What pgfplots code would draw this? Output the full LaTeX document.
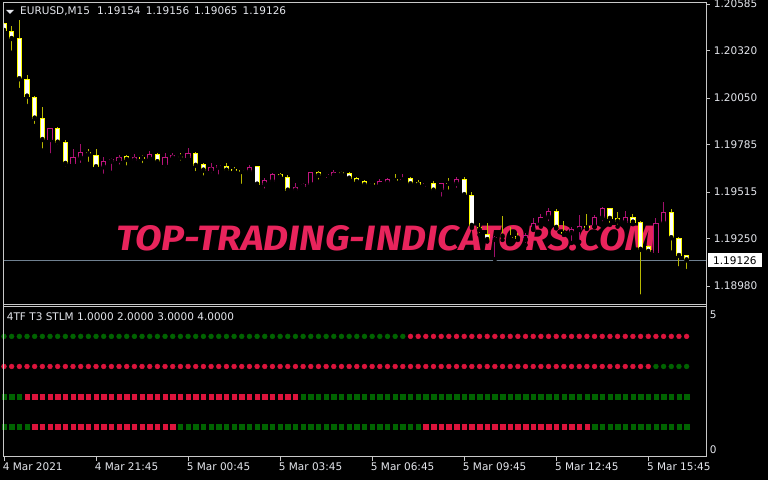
\documentclass[border=0pt]{standalone}
\usepackage{pgfplots}
\pgfplotsset{compat=1.18}
\usepackage{pgfplotstable}
\usepackage{fontspec}
\setmainfont{DejaVu Sans}
\newfontfamily\wmfont{Fira Sans}
\definecolor{bodyY}{HTML}{FFFF00}
\definecolor{wickY}{HTML}{B8B800}
\definecolor{magB}{HTML}{C0157F}
\definecolor{magW}{HTML}{A0106C}
\definecolor{dgreen}{HTML}{006400}
\definecolor{crim}{HTML}{DC143C}
\definecolor{wmc}{HTML}{E8245C}
\definecolor{framec}{HTML}{C8C8C8}
\definecolor{txtc}{HTML}{E4E6EC}
\definecolor{plc}{HTML}{6F8090}
\newcommand\lbl{\fontsize{10.5bp}{12bp}\selectfont}

\pgfplotstableread{
i o h l c
0 1.20477 1.20500 1.20426 1.20432
1 1.20432 1.20460 1.20308 1.20386
2 1.20392 1.20494 1.20096 1.20157
3 1.20157 1.20181 1.20005 1.20058
4 1.20058 1.20062 1.19891 1.19933
5 1.19934 1.19998 1.19751 1.19811
7 1.19880 1.19883 1.19773 1.19796
8 1.19800 1.19811 1.19650 1.19675
11 1.19741 1.19760 1.19675 1.19729
12 1.19726 1.19760 1.19637 1.19656
16 1.19720 1.19726 1.19654 1.19698
18 1.19713 1.19726 1.19669 1.19705
20 1.19730 1.19736 1.19679 1.19685
23 1.19722 1.19736 1.19682 1.19711
25 1.19736 1.19743 1.19622 1.19664
26 1.19673 1.19679 1.19597 1.19637
29 1.19664 1.19682 1.19622 1.19637
30 1.19645 1.19658 1.19625 1.19632
31 1.19641 1.19644 1.19550 1.19629
33 1.19664 1.19666 1.19540 1.19557
36 1.19616 1.19625 1.19595 1.19599
37 1.19603 1.19612 1.19504 1.19523
41 1.19629 1.19632 1.19574 1.19608
44 1.19629 1.19637 1.19611 1.19616
45 1.19622 1.19629 1.19588 1.19591
46 1.19597 1.19603 1.19565 1.19572
47 1.19578 1.19584 1.19550 1.19554
48 1.19565 1.19567 1.19546 1.19555
51 1.19588 1.19616 1.19575 1.19578
53 1.19594 1.19599 1.19551 1.19559
54 1.19572 1.19584 1.19550 1.19554
56 1.19565 1.19576 1.19521 1.19523
58 1.19568 1.19594 1.19517 1.19561
60 1.19588 1.19603 1.19480 1.19497
61 1.19498 1.19518 1.19311 1.19322
62 1.19318 1.19341 1.19271 1.19299
63 1.19277 1.19341 1.19233 1.19242
65 1.19271 1.19379 1.19242 1.19261
66 1.19261 1.19318 1.19237 1.19252
67 1.19265 1.19281 1.19242 1.19250
72 1.19407 1.19416 1.19308 1.19311
73 1.19290 1.19351 1.19271 1.19274
76 1.19324 1.19390 1.19305 1.19309
79 1.19423 1.19425 1.19328 1.19362
80 1.19366 1.19402 1.19318 1.19347
82 1.19372 1.19389 1.19332 1.19341
83 1.19347 1.19351 1.18920 1.19186
84 1.19208 1.19214 1.19157 1.19174
87 1.19403 1.19416 1.19170 1.19252
88 1.19252 1.19257 1.19081 1.19151
89 1.19154 1.19156 1.19065 1.19126
}\bear

\pgfplotstableread{
i o h l c
6 1.19811 1.19881 1.19724 1.19881
9 1.19675 1.19760 1.19672 1.19713
10 1.19707 1.19789 1.19669 1.19741
13 1.19656 1.19713 1.19607 1.19692
14 1.19688 1.19709 1.19624 1.19703
15 1.19694 1.19726 1.19660 1.19713
17 1.19694 1.19732 1.19679 1.19716
19 1.19702 1.19749 1.19694 1.19732
21 1.19669 1.19736 1.19645 1.19713
22 1.19707 1.19736 1.19702 1.19726
24 1.19711 1.19764 1.19707 1.19739
27 1.19637 1.19679 1.19612 1.19660
28 1.19654 1.19669 1.19603 1.19669
32 1.19629 1.19669 1.19612 1.19656
34 1.19557 1.19597 1.19523 1.19584
35 1.19574 1.19622 1.19554 1.19616
38 1.19523 1.19568 1.19517 1.19546
39 1.19546 1.19568 1.19527 1.19559
40 1.19557 1.19629 1.19557 1.19629
42 1.19612 1.19629 1.19584 1.19618
43 1.19608 1.19641 1.19603 1.19629
49 1.19554 1.19588 1.19553 1.19578
50 1.19565 1.19597 1.19554 1.19588
52 1.19582 1.19616 1.19568 1.19591
55 1.19561 1.19572 1.19534 1.19568
57 1.19527 1.19567 1.19477 1.19565
59 1.19561 1.19599 1.19527 1.19588
64 1.19242 1.19265 1.19133 1.19261
68 1.19242 1.19281 1.19214 1.19271
69 1.19303 1.19366 1.19299 1.19341
70 1.19337 1.19390 1.19318 1.19375
71 1.19372 1.19426 1.19337 1.19407
74 1.19281 1.19318 1.19225 1.19303
75 1.19299 1.19385 1.19231 1.19322
77 1.19316 1.19385 1.19316 1.19372
78 1.19366 1.19432 1.19337 1.19423
81 1.19341 1.19407 1.19332 1.19372
85 1.19170 1.19366 1.19147 1.19337
86 1.19337 1.19460 1.19315 1.19403
}\bull

\pgfplotstableread{
i s4 s3 s2 s1
0 g r g g
1 g r g g
2 g r g g
3 g r r g
4 g r r r
5 g r r r
6 g r r r
7 g r r r
8 g r r r
9 g r r r
10 g r r r
11 g r r r
12 g r r r
13 g r r r
14 g r r r
15 g r r r
16 g r r r
17 g r r r
18 g r r r
19 g r r r
20 g r r r
21 g r r r
22 g r r r
23 g r r g
24 g r r g
25 g r r g
26 g r r g
27 g r r g
28 g r r g
29 g r r g
30 g r r g
31 g r r g
32 g r r g
33 g r r g
34 g r r g
35 g r r g
36 g r r g
37 g r r g
38 g r r g
39 g r g g
40 g r g g
41 g r g g
42 g r g g
43 g r g g
44 g r g g
45 g r g g
46 g r g g
47 g r g g
48 g r g g
49 g r g g
50 g r g g
51 g r g g
52 g r g g
53 r r g g
54 r r g g
55 r r g r
56 r r g r
57 r r g r
58 r r g r
59 r r g r
60 r r g r
61 r r g r
62 r r g r
63 r r g r
64 r r g r
65 r r g r
66 r r g r
67 r r g r
68 r r g r
69 r r g r
70 r r g r
71 r r g r
72 r r g r
73 r r g r
74 r r g r
75 r r g r
76 r r g r
77 r r g g
78 r r g g
79 r r g g
80 r r g g
81 r r g g
82 r r g g
83 r r g g
84 r r g g
85 r g g g
86 r g g g
87 r g g g
88 r g g g
89 r g g g
}\dots

\pgfplotsset{
  candle/.style 2 args={only marks, mark=none, error bars/.cd, y dir=plus, y explicit, error mark=none,
    error bar style={draw=#1, line width=#2, solid}},
  dotcls/.style={only marks, scatter, scatter src=explicit symbolic,
    scatter/classes={g={mark=#1, dgreen}, r={mark=#1, crim}}}
}

\begin{document}
\begin{tikzpicture}
\path[use as bounding box] (0,0) rectangle (768bp,480bp);
\fill[black] (0,0) rectangle (768bp,480bp);
\node[anchor=south west, inner sep=0pt, text=wmc] at (116bp,228.3bp) {\resizebox{539bp}{25bp}{\wmfont\bfseries\itshape TOP-TRADING-INDICATORS.COM}};

\begin{axis}[at={(3bp,175.7bp)}, anchor=south west, scale only axis,
  width=703.7bp, height=301.3bp,
  xmin=-0.13, xmax=91.62, ymin=1.18876, ymax=1.20591,
  axis line style={draw=none}, xtick=\empty,
  ytick={1.18980,1.19250,1.19515,1.19785,1.20050,1.20320,1.20585},
  yticklabels={1.18980,1.19250,1.19515,1.19785,1.20050,1.20320,1.20585},
  ytick pos=right, ytick align=outside, major tick length=3bp,
  ytick style={draw=framec, line width=0.8bp},
  yticklabel style={text=txtc, font=\lbl, anchor=west, inner sep=0pt, xshift=4bp},
  clip=true]
\addplot[draw=plc, line width=0.8bp] coordinates {(-1,1.19126) (93,1.19126)};
\addplot[candle={wickY}{1bp}] table[x=i, y=l, y error plus expr=\thisrow{h}-\thisrow{l}] {\bear};
\addplot[candle={magW}{1bp}] table[x=i, y=l, y error plus expr=\thisrow{h}-\thisrow{l}] {\bull};
\addplot[candle={bodyY}{5.2bp}] table[x=i, y=c, y error plus expr=\thisrow{o}-\thisrow{c}] {\bear};
\addplot[candle={white}{3.4bp}] table[x=i, y expr=\thisrow{c}+0.000057, y error plus expr={max(0,\thisrow{o}-\thisrow{c}-0.000114)}] {\bear};
\addplot[candle={magB}{5.2bp}] table[x=i, y=o, y error plus expr=\thisrow{c}-\thisrow{o}] {\bull};
\addplot[candle={black}{3.4bp}] table[x=i, y expr=\thisrow{o}+0.000057, y error plus expr={max(0,\thisrow{c}-\thisrow{o}-0.000114)}] {\bull};
\end{axis}

\begin{axis}[at={(3bp,23.3bp)}, anchor=south west, scale only axis,
  width=703.7bp, height=150.4bp,
  xmin=-0.13, xmax=91.62, ymin=0, ymax=5,
  axis line style={draw=none},
  xtick={0,12,24,36,48,60,72,84},
  xticklabels={4 Mar 2021,4 Mar 21:45,5 Mar 00:45,5 Mar 03:45,5 Mar 06:45,5 Mar 09:45,5 Mar 12:45,5 Mar 15:45},
  xtick pos=bottom, xtick align=outside, major tick length=4bp,
  xtick style={draw=framec, line width=0.8bp},
  xticklabel style={text=txtc, font=\lbl, anchor=north west, inner sep=0pt, xshift=-1.4bp, yshift=-2bp},
  ytick={0.22,4.72}, yticklabels={0,5}, ytick pos=right,
  ytick style={draw=none},
  yticklabel style={text=txtc, font=\lbl, anchor=west, inner sep=0pt, xshift=3bp},
  clip=false]
\addplot[dotcls=*, mark size=2.45pt] table[x=i, y expr=4, meta=s4] {\dots};
\addplot[dotcls=*, mark size=2.45pt] table[x=i, y expr=3, meta=s3] {\dots};
\addplot[dotcls=square*, mark size=2.2pt] table[x=i, y expr=2, meta=s2] {\dots};
\addplot[dotcls=square*, mark size=2.2pt] table[x=i, y expr=1, meta=s1] {\dots};
\end{axis}

\draw[framec, line width=1bp] (3bp,23.3bp) rectangle (706.7bp,477.3bp);
\draw[framec, line width=1bp] (3bp,175.7bp) -- (706.7bp,175.7bp);
\draw[framec, line width=1bp] (3bp,173.7bp) -- (706.7bp,173.7bp);

\fill[txtc] (6bp,470bp) -- (14bp,470bp) -- (10bp,466bp) -- cycle;
\begin{scope}[every node/.style={anchor=base west, inner sep=0pt, text=txtc, font=\lbl}]
\node at (20bp,465bp) {EURUSD,M15};
\node at (97bp,465bp) {1.19154};
\node at (145.7bp,465bp) {1.19156};
\node at (194bp,465bp) {1.19065};
\node at (242.5bp,465bp) {1.19126};
\node at (6.7bp,159bp) {4TF T3 STLM 1.0000 2.0000 3.0000 4.0000};
\end{scope}
\node[fill=white, text=black, font=\lbl, inner xsep=5.5bp, inner ysep=0pt, minimum height=14bp, anchor=west] at (707.5bp,219.7bp) {1.19126};
\end{tikzpicture}
\end{document}
